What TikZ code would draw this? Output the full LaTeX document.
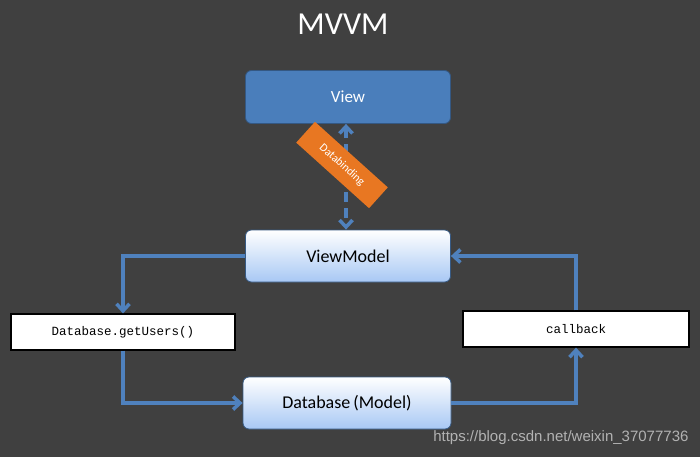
\documentclass[tikz,border=0pt]{standalone}
\usepackage{fontspec}
\setmainfont{Carlito}
\newfontfamily\monof{Liberation Mono}
\newfontfamily\wmf{Liberation Sans}
\usetikzlibrary{arrows.meta,shapes.misc}
\definecolor{bg}{HTML}{404040}
\definecolor{lnk}{HTML}{4F81BD}
\definecolor{viewc}{HTML}{4A7EBB}
\definecolor{org}{HTML}{E87722}
\definecolor{lb}{HTML}{A8C8F4}
\begin{document}
\begin{tikzpicture}[x=1pt,y=-1pt,
  lightbox/.style={draw=lnk!70!black,line width=0.8pt,rounded corners=6pt,minimum width=205pt,minimum height=52pt,top color=white,bottom color=lb,font=\fontsize{18}{20}\selectfont,text=black},
  note/.style={draw=black,line width=1.2pt,fill=white,minimum height=36pt,font=\monof\fontsize{12.5}{14}\selectfont},
  conn/.style={draw=lnk,line width=3.5pt,-{Straight Barb[length=7pt,width=13pt]}}]
\fill[bg] (0,0) rectangle (700,457);
\useasboundingbox (0,0) rectangle (700,457);
\node[text=white,font=\fontsize{32}{36}\selectfont] (title) at (343,24) {MVVM};
\node[draw=viewc!70!black,fill=viewc,line width=0.8pt,rounded corners=6pt,minimum width=205pt,minimum height=53pt,text=white,font=\fontsize{17}{19}\selectfont] (view) at (348,97) {View};
\node[lightbox] (vm) at (348,256) {ViewModel};
\node[lightbox,minimum width=208pt] (db) at (347,403) {Database\,(Model)};
\node[note,minimum width=224pt] (gu) at (123,332) {Database.getUsers()};
\node[note,minimum width=226pt] (cb) at (576,329) {callback};
\draw[lnk,line width=3.5pt,dash pattern=on 10pt off 6pt,{Straight Barb[length=7pt,width=13pt]}-{Straight Barb[length=7pt,width=13pt]}] (view.south -| 346,0) -- (vm.north -| 346,0);
\node[fill=org,rotate=-42,minimum width=98pt,minimum height=28pt,inner sep=1pt,text=white,font=\fontsize{11.5}{13}\selectfont] (bind) at (342,165) {Databinding};
\draw[conn] (vm.west) -| (gu.north);
\draw[conn] (gu.south) |- (db.west);
\draw[conn] (db.east) -| (cb.south);
\draw[conn] (cb.north) |- (vm.east);
\node[text=gray!60,font=\wmf\fontsize{15}{17}\selectfont,anchor=east] (wm) at (692,438) {https://blog.csdn.net/weixin\_37077736};
\end{tikzpicture}
\end{document}
